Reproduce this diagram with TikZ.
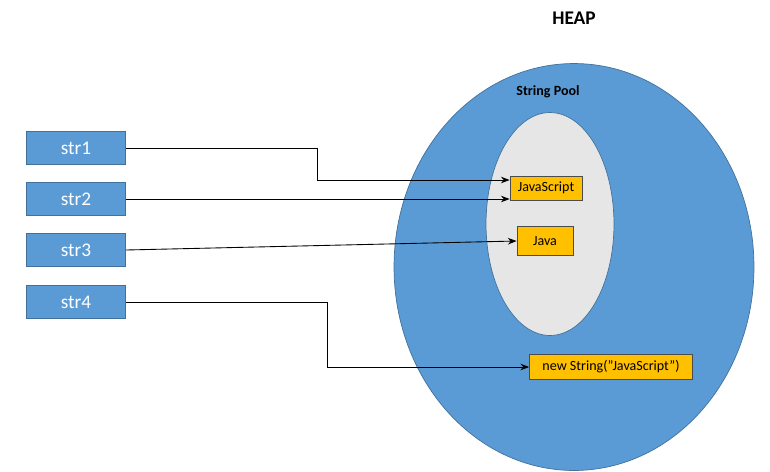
\documentclass[tikz,border=0pt]{standalone}
\usepackage{fontspec}
\setmainfont{Carlito}
\usetikzlibrary{positioning}
\usetikzlibrary{shapes.geometric}
\usetikzlibrary{arrows.meta}
\definecolor{heapBlue}{HTML}{5B9BD5}
\definecolor{poolGray}{HTML}{E7E6E6}
\definecolor{litYellow}{HTML}{FFC000}
\definecolor{edgeBlue}{HTML}{41719C}

\begin{document}
\begin{tikzpicture}[
    x=0.02cm, y=-0.02cm,
    refBox/.style={rectangle,
    draw=edgeBlue,
    fill=heapBlue,
    text=white,
    font=\fontsize{11}{13}\selectfont,
    minimum width=1.98cm,
    minimum height=0.66cm},
    litBox/.style={rectangle,
    draw=black!70,
    fill=litYellow,
    font=\fontsize{8}{10}\selectfont,
    minimum height=0.48cm},
    link/.style={line width=0.5pt, -{Stealth[length=5pt]}}
    ]
    \useasboundingbox (0,0) rectangle (770,471);
    \node[ellipse, draw=edgeBlue, fill=heapBlue, minimum width=7.2cm, minimum height=8.14cm] (heap) at (574,267) {};
    \node[ellipse, draw=edgeBlue, fill=poolGray, minimum width=2.56cm, minimum height=4.46cm] (pool) at (550,224) {};
    \node[font=\bfseries\fontsize{11}{13}\selectfont] (heapLbl) at (574,18) {HEAP};
    \node[font=\bfseries\fontsize{8}{10}\selectfont] (poolLbl) at (548,92) {String Pool};
    \node[refBox] (str1) at (76,148) {str1};
    \node[refBox] (str2) at (76,199) {str2};
    \node[refBox] (str3) at (76,250) {str3};
    \node[refBox] (str4) at (76,302) {str4};
    \node[litBox, minimum width=1.44cm] (js) at (546,188) {JavaScript};
    \node[litBox, minimum width=1.12cm, minimum height=0.58cm] (java) at (545,241) {Java};
    \node[litBox, minimum width=3.26cm, minimum height=0.5cm] (newStr) at (611,367) {new String("JavaScript")};
    \draw[link] (str1.east) -- (317,148) -- (317,180) -- (js.west |- 0,180);
    \draw[link] (str2.east) -- (js.west |- 0,199);
    \draw[link] (str3.east) -- (java.west);
    \draw[link] (str4.east) -- (327,302) -- (327,367) -- (newStr.west);
\end{tikzpicture}
\end{document}
